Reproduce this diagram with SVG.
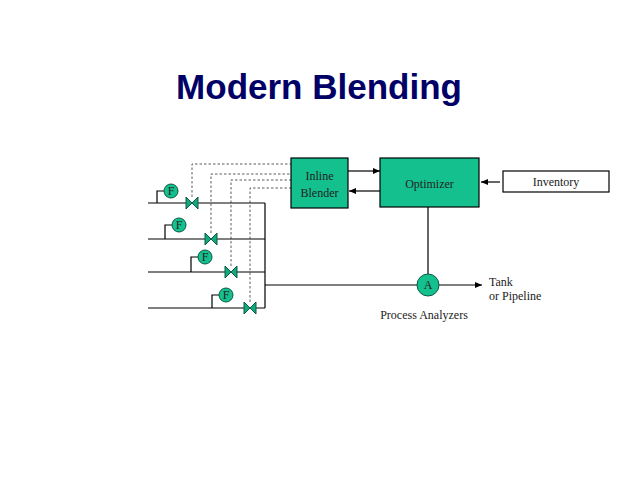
<svg xmlns="http://www.w3.org/2000/svg" width="638" height="479" viewBox="0 0 638 479">
<style>
.ln{stroke:#000;stroke-width:1.2;fill:none}
.ds{stroke:#333;stroke-width:0.8;fill:none;stroke-dasharray:2.5,2}
.box{fill:#14c08e;stroke:#000;stroke-width:1.2}
.t{font-family:"Liberation Serif",serif;font-size:12px;fill:#222}
.v{fill:#14a87e;stroke:#0b5a44;stroke-width:1}
.c{fill:#14c08e;stroke:#0b5a44;stroke-width:1}
</style>
<defs><marker id="ah" markerWidth="8" markerHeight="6" refX="7" refY="3" orient="auto" markerUnits="userSpaceOnUse"><path d="M0,0 L7,3 L0,6 Z" fill="#000"/></marker></defs>
<rect width="638" height="479" fill="#fff"/>
<text x="319" y="99" text-anchor="middle" font-family="Liberation Sans,sans-serif" font-weight="bold" font-size="35" fill="#000066">Modern Blending</text>
<g id="connectors">
<path class="ln" d="M148,203H265M148,239H265M148,272H265M148,308H265M265,203V308M265,285H417"/>
<path class="ln" d="M157,203V191H164M165,239V225H172M191,272V257H198M212,308V295H219"/>
<path class="ds" d="M192,197V164H291M211,233V174H291M231,266V180H291M250,302V188H291"/>
<path class="ln" d="M428,207V274"/>
<path class="ln" marker-end="url(#ah)" d="M439,285H482"/>
<path class="ln" marker-end="url(#ah)" d="M348,171H380"/>
<path class="ln" marker-end="url(#ah)" d="M380,191H349"/>
<path class="ln" marker-end="url(#ah)" d="M500,182H481"/>
</g>
<g id="valve1"><path class="v" d="M186,197L198,209V197L186,209Z"/></g>
<g id="valve2"><path class="v" d="M205,233L217,245V233L205,245Z"/></g>
<g id="valve3"><path class="v" d="M225,266L237,278V266L225,278Z"/></g>
<g id="valve4"><path class="v" d="M244,302L256,314V302L244,314Z"/></g>
<g id="f1"><circle class="c" cx="171" cy="191" r="7"/><text class="t" x="171" y="195" font-size="10" text-anchor="middle">F</text></g>
<g id="f2"><circle class="c" cx="179" cy="225" r="7"/><text class="t" x="179" y="229" font-size="10" text-anchor="middle">F</text></g>
<g id="f3"><circle class="c" cx="205" cy="257" r="7"/><text class="t" x="205" y="261" font-size="10" text-anchor="middle">F</text></g>
<g id="f4"><circle class="c" cx="226" cy="295" r="7"/><text class="t" x="226" y="299" font-size="10" text-anchor="middle">F</text></g>
<g id="blender"><rect class="box" x="291" y="158" width="57" height="50"/><text class="t" x="319.5" y="180" text-anchor="middle">Inline</text><text class="t" x="319.5" y="197" text-anchor="middle">Blender</text></g>
<g id="optimizer"><rect class="box" x="380" y="158" width="99" height="49"/><text class="t" x="429.5" y="188" text-anchor="middle">Optimizer</text></g>
<g id="inventory"><rect x="503" y="171" width="106" height="21" fill="#fff" stroke="#000" stroke-width="1.2"/><text class="t" x="556" y="186" font-size="11" text-anchor="middle">Inventory</text></g>
<g id="analyzer"><circle class="c" cx="428" cy="285" r="11"/><text class="t" x="428" y="289" text-anchor="middle">A</text></g>
<text class="t" x="489" y="286" font-size="11">Tank</text>
<text class="t" x="489" y="300" font-size="11">or Pipeline</text>
<text class="t" x="424" y="319" font-size="11" text-anchor="middle">Process Analyzers</text>
</svg>
